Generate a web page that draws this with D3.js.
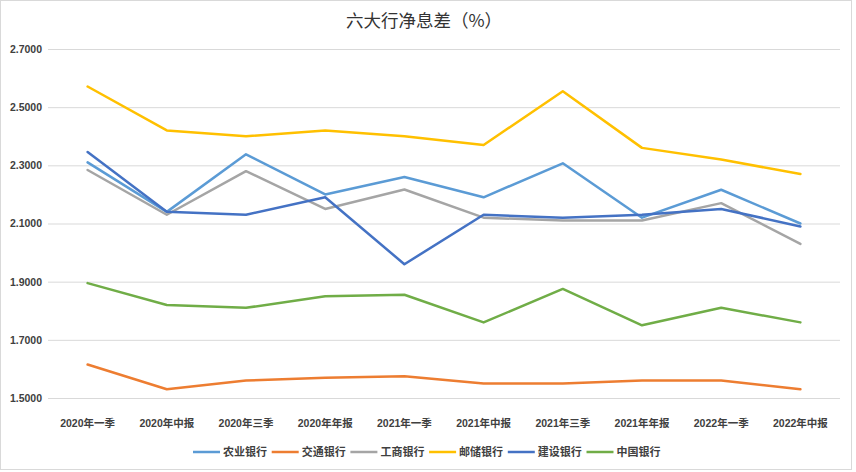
<!DOCTYPE html>
<html><head><meta charset="utf-8">
<script src="https://cdn.jsdelivr.net/npm/d3@7"></script>
<style>
html,body{margin:0;padding:0;background:#fff;}
svg{display:block;}
</style></head>
<body>
<svg id="chart" width="856" height="472"></svg>
<script>
const categories = ["2020年一季","2020年中报","2020年三季","2020年年报","2021年一季","2021年中报","2021年三季","2021年年报","2022年一季","2022年中报"];
const seriesNames = ["农业银行","交通银行","工商银行","邮储银行","建设银行","中国银行"];
const abc  = [2.31, 2.14, 2.338, 2.20, 2.26, 2.19, 2.307, 2.12, 2.216, 2.10];
const bocom= [1.615, 1.53, 1.56, 1.57, 1.575, 1.55, 1.55, 1.56, 1.56, 1.53];
const icbc = [2.284, 2.13, 2.28, 2.15, 2.217, 2.12, 2.11, 2.11, 2.17, 2.03];
const psbc = [2.571, 2.42, 2.40, 2.42, 2.40, 2.37, 2.555, 2.36, 2.32, 2.27];
const ccb  = [2.346, 2.14, 2.13, 2.19, 1.96, 2.13, 2.12, 2.13, 2.15, 2.09];
const boc  = [1.895, 1.82, 1.81, 1.85, 1.855, 1.76, 1.875, 1.75, 1.81, 1.76];
const yTicks = [1.5, 1.7, 1.9, 2.1, 2.3, 2.5, 2.7];
const colors = ["#5B9BD5","#ED7D31","#A5A5A5","#FFC000","#4472C4","#70AD47"];
const title = "六大行净息差（%）";

const seriesValues = [abc, bocom, icbc, psbc, ccb, boc];

const svg = d3.select("#chart");
const plot = {left: 48, right: 840, top: 49, bottom: 398};

svg.append("rect").attr("x",0.5).attr("y",0.5).attr("width",851).attr("height",469)
  .attr("fill","#fff").attr("stroke","#d9d9d9");

svg.append("text").attr("x", 424).attr("y", 27).attr("text-anchor","middle")
  .attr("font-family","'Noto Sans CJK SC', sans-serif").attr("font-size",17.5)
  .attr("fill","#333").text(title);

const x = d3.scaleBand().domain(categories).range([plot.left, plot.right]);
const y = d3.scaleLinear().domain([1.5, 2.7]).range([plot.bottom, plot.top]);

// gridlines + y axis
const yAxis = d3.axisLeft(y).tickValues(yTicks).tickFormat(d3.format(".4f"))
  .tickSize(-(plot.right - plot.left)).tickPadding(6);
const gy = svg.append("g").attr("transform", `translate(${plot.left},0)`).call(yAxis);
gy.select(".domain").remove();
gy.selectAll(".tick line").attr("stroke","#d9d9d9").attr("stroke-width",1);
gy.selectAll(".tick text").attr("font-family","'Liberation Sans', Arial, sans-serif")
  .attr("font-size",10.5).attr("font-weight","bold").attr("fill","#404040");

// x axis labels
const xAxis = d3.axisBottom(x).tickSize(0).tickPadding(22);
const gx = svg.append("g").attr("transform", `translate(0,${plot.bottom})`).call(xAxis);
gx.select(".domain").remove();
gx.selectAll(".tick text").attr("font-family","'Liberation Sans', 'Noto Sans CJK SC', sans-serif")
  .attr("font-size",10.5).attr("font-weight","bold").attr("fill","#404040");

// lines
const line = d3.line().x((d,i) => x(categories[i]) + x.bandwidth()/2).y(d => y(d));
seriesValues.forEach((vals, si) => {
  svg.append("path").datum(vals).attr("d", line)
    .attr("fill","none").attr("stroke", colors[si]).attr("stroke-width",2.5)
    .attr("stroke-linejoin","round").attr("stroke-linecap","round");
});

// legend
const legendX0 = 193, legendY = 452, itemW = 78.7;
const lg = svg.append("g");
seriesNames.forEach((name, i) => {
  const gx0 = legendX0 + i * itemW;
  lg.append("line").attr("x1", gx0).attr("x2", gx0 + 27).attr("y1", legendY).attr("y2", legendY)
    .attr("stroke", colors[i]).attr("stroke-width", 2.5);
  lg.append("text").attr("x", gx0 + 30).attr("y", legendY).attr("dy","0.35em")
    .attr("font-family","'Noto Sans CJK SC', sans-serif").attr("font-size",11)
    .attr("font-weight","bold").attr("fill","#404040").text(name);
});
</script>
</body></html>
